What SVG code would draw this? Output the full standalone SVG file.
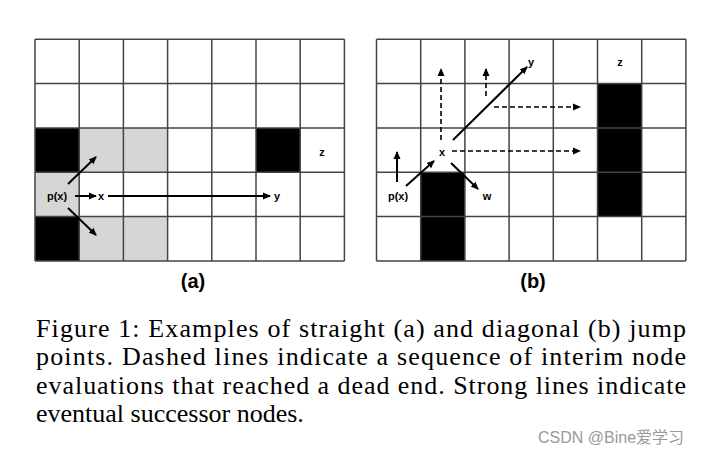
<svg xmlns="http://www.w3.org/2000/svg" width="716" height="454" viewBox="0 0 716 454">
<style>
.g{fill:none;stroke:#444;stroke-width:1.5}
.lb{font-family:"Liberation Sans",Arial,sans-serif;font-weight:bold;font-size:11px;fill:#000}
.a{stroke:#000;stroke-width:2;fill:none;marker-end:url(#ah)}
.d{stroke:#000;stroke-width:1.6;fill:none;stroke-dasharray:5 3;marker-end:url(#ah)}
.cap{font-family:"Liberation Serif","Times New Roman",serif;font-size:26px;fill:#000}
</style>
<defs>
<marker id="ah" markerWidth="8" markerHeight="8" refX="7" refY="4" orient="auto" markerUnits="userSpaceOnUse"><path d="M0,0.5 L8,4 L0,7.5z" fill="#000"/></marker>
</defs>
<rect width="716" height="454" fill="#fff"/>
<g id="gridA">
<rect x="35" y="39.3" width="309.4" height="221.5" fill="#fff"/>
<rect x="79.2" y="128" width="88.4" height="44.3" fill="#d6d6d6"/>
<rect x="79.2" y="216.6" width="88.4" height="44.3" fill="#d6d6d6"/>
<rect x="35" y="172.3" width="44.2" height="44.3" fill="#d6d6d6"/>
<rect x="35" y="128" width="44.2" height="44.3" fill="#000"/>
<rect x="35" y="216.6" width="44.2" height="44.3" fill="#000"/>
<rect x="256" y="128" width="44.2" height="44.3" fill="#000"/>
<path class="g" d="M35,39.3H344.4M35,83.6H344.4M35,128H344.4M35,172.3H344.4M35,216.6H344.4M35,260.9H344.4M35,39.3V260.9M79.2,39.3V260.9M123.4,39.3V260.9M167.6,39.3V260.9M211.8,39.3V260.9M256,39.3V260.9M300.2,39.3V260.9M344.4,39.3V260.9"/>
</g>
<g id="gridB">
<rect x="376.5" y="39.3" width="309.4" height="221.5" fill="#fff"/>
<rect x="420.7" y="172.3" width="44.2" height="88.6" fill="#000"/>
<rect x="597.5" y="83.6" width="44.2" height="133" fill="#000"/>
<path class="g" d="M376.5,39.3H685.9M376.5,83.6H685.9M376.5,128H685.9M376.5,172.3H685.9M376.5,216.6H685.9M376.5,260.9H685.9M376.5,39.3V260.9M420.7,39.3V260.9M464.9,39.3V260.9M509.1,39.3V260.9M553.3,39.3V260.9M597.5,39.3V260.9M641.7,39.3V260.9M685.9,39.3V260.9"/>
</g>
<g id="labels">
<text class="lb" x="57" y="200" text-anchor="middle">p(x)</text>
<text class="lb" x="101" y="200" text-anchor="middle">x</text>
<text class="lb" x="277" y="200" text-anchor="middle">y</text>
<text class="lb" x="322" y="156" text-anchor="middle">z</text>
<text class="lb" x="531" y="66" text-anchor="middle">y</text>
<text class="lb" x="620" y="66" text-anchor="middle">z</text>
<text class="lb" x="442" y="156" text-anchor="middle">x</text>
<text class="lb" x="398" y="200" text-anchor="middle">p(x)</text>
<text class="lb" x="487" y="200" text-anchor="middle">w</text>
</g>
<g id="connectors">
<line class="a" x1="75" y1="196" x2="96" y2="196"/>
<line class="a" x1="108" y1="196" x2="270" y2="196"/>
<line class="a" x1="68" y1="184" x2="96" y2="157"/>
<line class="a" x1="68" y1="208" x2="96" y2="235"/>
<line class="a" x1="397" y1="182" x2="397" y2="152"/>
<line class="a" x1="406" y1="186" x2="434" y2="161"/>
<line class="a" x1="451" y1="163" x2="478" y2="189"/>
<line class="a" x1="453" y1="140" x2="527" y2="67"/>
<line class="d" x1="441" y1="140" x2="441" y2="69"/>
<line class="d" x1="486" y1="96" x2="486" y2="69"/>
<line class="d" x1="494" y1="107" x2="580" y2="107"/>
<line class="d" x1="452" y1="151" x2="580" y2="151"/>
</g>
<text x="193" y="288" text-anchor="middle" font-family="Liberation Sans,Arial,sans-serif" font-weight="bold" font-size="20">(a)</text>
<text x="533" y="288" text-anchor="middle" font-family="Liberation Sans,Arial,sans-serif" font-weight="bold" font-size="20">(b)</text>
<text class="cap" x="36" y="337" textLength="650" lengthAdjust="spacing">Figure 1:  Examples of straight (a) and diagonal (b) jump</text>
<text class="cap" x="36" y="365" textLength="650" lengthAdjust="spacing">points.  Dashed lines indicate a sequence of interim node</text>
<text class="cap" x="36" y="394" textLength="650" lengthAdjust="spacing">evaluations that reached a dead end.  Strong lines indicate</text>
<text class="cap" x="36" y="422">eventual successor nodes.</text>
<text x="538" y="443" font-family="Liberation Sans,Noto Sans CJK SC,sans-serif" font-size="16" fill="#999">CSDN @Bine爱学习</text>
</svg>
